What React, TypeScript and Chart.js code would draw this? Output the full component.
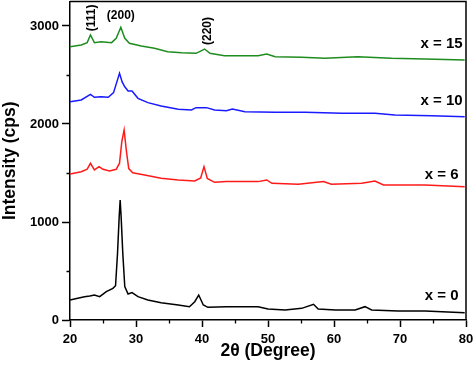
import { useEffect, useRef } from "react";
import { Chart, registerables } from "chart.js";

Chart.register(...registerables);

// ---- data ----
const blackAngles = [20.0, 21.0, 22.2, 23.0, 23.7, 24.5, 25.5, 26.5, 26.9, 27.2, 27.45, 27.6, 27.75, 28.0, 28.3, 28.8, 29.4, 30.3, 31.8, 33.8, 36.4, 38.1, 38.9, 39.5, 40.2, 40.9, 43.7, 48.5, 50.0, 52.6, 55.1, 56.9, 57.6, 60.2, 63.2, 64.7, 65.7, 69.7, 73.8, 79.8];
const blackValues = [204, 220, 238, 245, 255, 238, 289, 323, 350, 680, 1050, 1224, 1050, 680, 340, 265, 279, 238, 204, 177, 153, 136, 187, 255, 153, 129, 136, 136, 112, 102, 119, 160, 112, 102, 102, 136, 102, 92, 92, 75];

const redAngles = [20.0, 21.7, 22.6, 23.1, 23.7, 24.4, 25.0, 26.0, 27.0, 27.5, 27.85, 28.2, 28.55, 28.9, 29.5, 31.3, 33.8, 36.4, 38.9, 39.8, 40.3, 40.8, 41.9, 43.7, 48.5, 49.8, 50.6, 54.6, 58.4, 59.6, 64.2, 66.2, 67.5, 73.8, 79.8];
const redValues = [1490, 1513, 1540, 1599, 1531, 1565, 1538, 1520, 1538, 1600, 1820, 1939, 1720, 1545, 1503, 1480, 1446, 1429, 1418, 1450, 1565, 1445, 1405, 1412, 1412, 1429, 1395, 1385, 1412, 1385, 1395, 1418, 1378, 1378, 1360];

const blueAngles = [20.0, 21.7, 23.1, 23.7, 24.7, 25.8, 26.6, 27.1, 27.5, 27.9, 28.3, 28.8, 29.4, 30.3, 31.8, 33.8, 36.4, 38.4, 39.1, 40.7, 41.9, 43.7, 44.6, 46.5, 51.1, 55.6, 61.2, 66.2, 69.2, 74.8, 79.8];
const blueValues = [2228, 2245, 2303, 2272, 2279, 2272, 2320, 2430, 2517, 2430, 2380, 2337, 2337, 2262, 2218, 2184, 2150, 2143, 2167, 2167, 2143, 2136, 2153, 2126, 2119, 2119, 2109, 2109, 2092, 2085, 2075];

const greenAngles = [20.0, 21.7, 22.6, 23.1, 23.7, 24.7, 26.3, 27.0, 27.7, 28.3, 29.0, 30.8, 32.8, 34.8, 36.9, 39.1, 40.4, 41.2, 43.4, 48.5, 49.8, 51.1, 55.1, 58.6, 63.6, 68.7, 73.8, 79.8];
const greenValues = [2789, 2806, 2830, 2908, 2830, 2840, 2830, 2875, 2987, 2875, 2823, 2796, 2772, 2738, 2728, 2721, 2765, 2721, 2697, 2697, 2714, 2687, 2680, 2670, 2687, 2670, 2663, 2653];

const seriesNames = ["x = 0", "x = 6", "x = 10", "x = 15"];
const seriesColors = ["#000000", "#ff1a1a", "#1a1aff", "#1f8c1f"];
const seriesLabelAngle = 76.3;
const seriesLabelIntensity = [245, 1480, 2235, 2816];

const peakLabels = ["(111)", "(200)", "(220)"];
const peakLabelAngles = [23.3, 27.7, 40.8];
const peakLabelIntensity = [3082, 3102, 2949];
const peakLabelVertical = [true, false, true];

const xMin = 20;
const xMax = 80;
const xStep = 10;
const xMinorTicks = [25, 35, 45, 55, 65, 75];
const yMin = 0;
const yMax = 3250;
const yTickValues = [0, 1000, 2000, 3000];
const yMinorTicks = [500, 1500, 2500];

const xTitle = "2θ (Degree)";
const yTitle = "Intensity (cps)";

const FONT = '"Liberation Sans", Arial, sans-serif';

const pts = (xs: number[], ys: number[]) => xs.map((x, i) => ({ x, y: ys[i] }));

const annotate = {
  id: "annotate",
  afterDraw(chart: any) {
    const { ctx, chartArea: a, scales } = chart;
    const xs = scales.x;
    const ys = scales.y;
    ctx.save();
    ctx.strokeStyle = "#000";
    ctx.lineWidth = 1.5;
    ctx.beginPath();
    ctx.moveTo(a.left, a.top);
    ctx.lineTo(a.right, a.top);
    ctx.lineTo(a.right, a.bottom);
    ctx.stroke();
    ctx.lineWidth = 1.3;
    ctx.beginPath();
    xMinorTicks.forEach((v) => {
      const px = Math.round(xs.getPixelForValue(v)) + 0.5;
      ctx.moveTo(px, a.bottom);
      ctx.lineTo(px, a.bottom + 3.5);
    });
    yMinorTicks.forEach((v) => {
      const py = Math.round(ys.getPixelForValue(v)) + 0.5;
      ctx.moveTo(a.left, py);
      ctx.lineTo(a.left - 3.5, py);
    });
    ctx.stroke();

    ctx.fillStyle = "#000";
    ctx.textAlign = "center";
    ctx.textBaseline = "middle";
    ctx.font = `bold 12px ${FONT}`;
    peakLabels.forEach((t, i) => {
      const px = xs.getPixelForValue(peakLabelAngles[i]);
      const py = ys.getPixelForValue(peakLabelIntensity[i]);
      ctx.save();
      ctx.translate(px, py);
      if (peakLabelVertical[i]) ctx.rotate(-Math.PI / 2);
      ctx.fillText(t, 0, 0);
      ctx.restore();
    });
    ctx.font = `bold 15px ${FONT}`;
    seriesNames.forEach((t, i) => {
      const px = xs.getPixelForValue(seriesLabelAngle);
      const py = ys.getPixelForValue(seriesLabelIntensity[i]);
      ctx.fillText(t, px, py);
    });
    ctx.restore();
  },
};

export default function App() {
  const ref = useRef<HTMLCanvasElement | null>(null);
  useEffect(() => {
    if (!ref.current) return;
    const series = [
      pts(blackAngles, blackValues),
      pts(redAngles, redValues),
      pts(blueAngles, blueValues),
      pts(greenAngles, greenValues),
    ];
    const chart = new Chart(ref.current, {
      type: "line",
      data: {
        datasets: series.map((d, i) => ({
          label: seriesNames[i],
          data: d,
          borderColor: seriesColors[i],
          backgroundColor: seriesColors[i],
          borderWidth: 1.5,
          pointRadius: 0,
          tension: 0,
          fill: false,
        })),
      },
      options: {
        animation: false,
        responsive: false,
        layout: { padding: { left: 0, top: 1.5, right: 8, bottom: 0 } },
        plugins: { legend: { display: false }, tooltip: { enabled: false } },
        scales: {
          x: {
            type: "linear",
            min: xMin,
            max: xMax,
            ticks: {
              stepSize: xStep,
              color: "#000",
              font: { family: FONT, size: 13, weight: "bold" },
              padding: 5,
              maxRotation: 0,
              autoSkip: false,
              callback: (v: any) => String(v),
            },
            grid: { drawOnChartArea: false, drawTicks: true, tickLength: 7, tickColor: "#000", tickWidth: 1.5 },
            border: { display: true, color: "#000", width: 1.5 },
            title: {
              display: true,
              text: xTitle,
              color: "#000",
              font: { family: FONT, size: 17.5, weight: "bold" },
              padding: { top: 0, bottom: 8 },
            },
            afterFit: (s: any) => {
              s.height = 50;
              s.paddingLeft = 0;
              s.paddingRight = 0;
            },
          },
          y: {
            type: "linear",
            min: yMin,
            max: yMax,
            afterBuildTicks: (s: any) => {
              s.ticks = yTickValues.map((v) => ({ value: v }));
            },
            ticks: {
              color: "#000",
              font: { family: FONT, size: 13, weight: "bold" },
              padding: 3,
              callback: (v: any) => String(v),
            },
            grid: { drawOnChartArea: false, drawTicks: true, tickLength: 8, tickColor: "#000", tickWidth: 1.5 },
            border: { display: true, color: "#000", width: 1.5 },
            title: {
              display: true,
              text: yTitle,
              color: "#000",
              font: { family: FONT, size: 17.5, weight: "bold" },
              padding: { top: 0, bottom: 0 },
            },
            afterFit: (s: any) => {
              s.width = 70;
              s.paddingTop = 0;
              s.paddingBottom = 0;
            },
          },
        },
      },
      plugins: [annotate],
    } as any);
    return () => chart.destroy();
  }, []);
  return (
    <div style={{ position: "fixed", left: 0, top: 0, width: 474, height: 370, background: "#fff" }}>
      <canvas ref={ref} width={474} height={370} style={{ display: "block" }} />
    </div>
  );
}
